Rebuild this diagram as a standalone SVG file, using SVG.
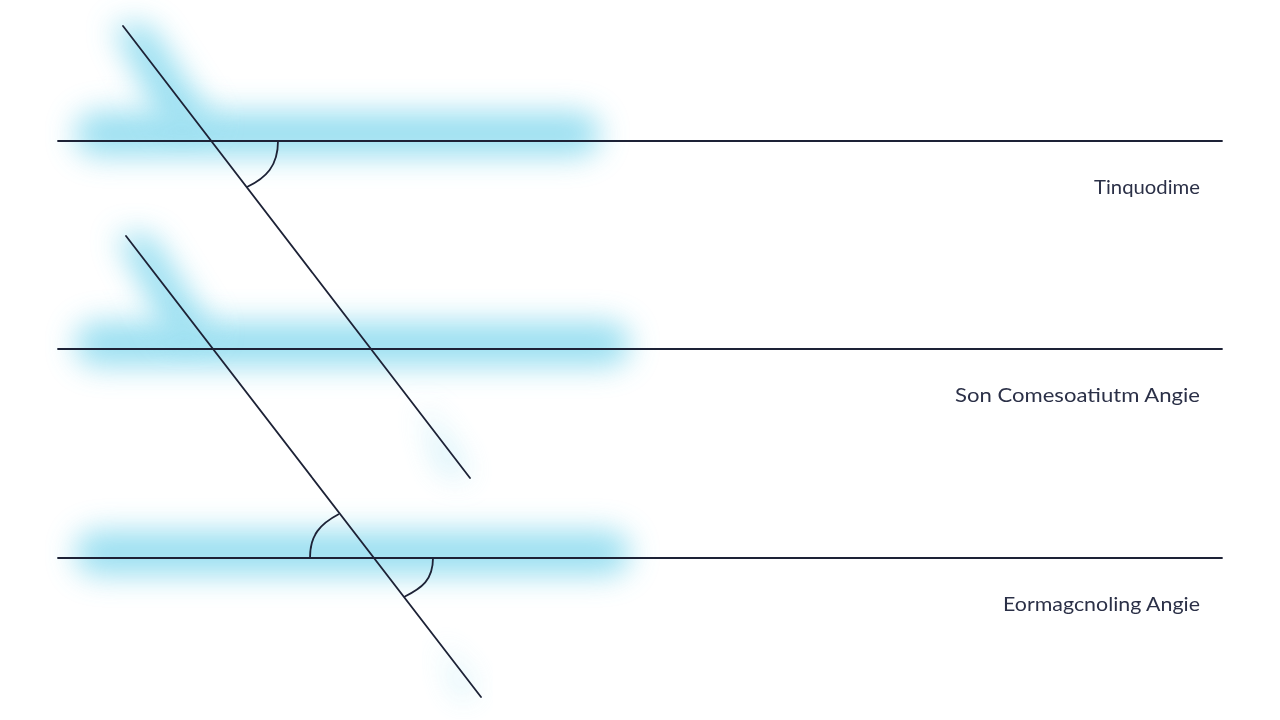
<svg xmlns="http://www.w3.org/2000/svg" width="1280" height="720" viewBox="0 0 1280 720">
<defs>
<filter id="blur" x="-50%" y="-100%" width="200%" height="300%"><feGaussianBlur stdDeviation="15"/></filter>
<style>
.ln{stroke:#1d2236;stroke-width:1.8;fill:none;stroke-linecap:round}
.arc{stroke:#1d2236;stroke-width:1.8;fill:none}
.glow{fill:#86d9ee;filter:url(#blur)}
.lbl{font-family:"Lato","Open Sans",sans-serif;font-size:19px;fill:#2b3047;text-anchor:end}
</style>
</defs>
<rect width="1280" height="720" fill="#ffffff"/>
<g id="glows" opacity="0.85">
<rect class="glow" x="75" y="112" width="525" height="44" rx="22"/>
<rect class="glow" x="75" y="322" width="555" height="44" rx="22"/>
<rect class="glow" x="75" y="531" width="555" height="44" rx="22"/>
<path class="glow" d="M112 25 L150 25 L215 125 L165 130 Z"/>
<path class="glow" d="M116 235 L152 235 L215 335 L170 340 Z"/>
<path class="glow" d="M420 400 L460 460 L470 480 L440 470 Z" opacity="0.5"/>
<path class="glow" d="M440 640 L475 690 L460 700 Z" opacity="0.5"/>
</g>
<g id="connectors">
<line class="ln" x1="58" y1="141" x2="1222" y2="141"/>
<line class="ln" x1="58" y1="349" x2="1222" y2="349"/>
<line class="ln" x1="58" y1="558" x2="1222" y2="558"/>
<line class="ln" x1="123" y1="26" x2="470" y2="478"/>
<line class="ln" x1="126" y1="236" x2="481" y2="697"/>
</g>
<g id="angle1"><path class="arc" d="M278 141 C278 166 266 178 247 187"/></g>
<g id="angle2"><path class="arc" d="M310 558 C310 535 320 524 339 514"/></g>
<g id="angle3"><path class="arc" d="M433 558 C433 580 422 588 404 597"/></g>
<g id="label1"><text class="lbl" x="1200" y="194" textLength="106" lengthAdjust="spacingAndGlyphs">Tinquodime</text></g>
<g id="label2"><text class="lbl" x="1200" y="402" textLength="245" lengthAdjust="spacingAndGlyphs">Son Comesoatiutm Angie</text></g>
<g id="label3"><text class="lbl" x="1200" y="611" textLength="197" lengthAdjust="spacingAndGlyphs">Eormagcnoling Angie</text></g>
</svg>
